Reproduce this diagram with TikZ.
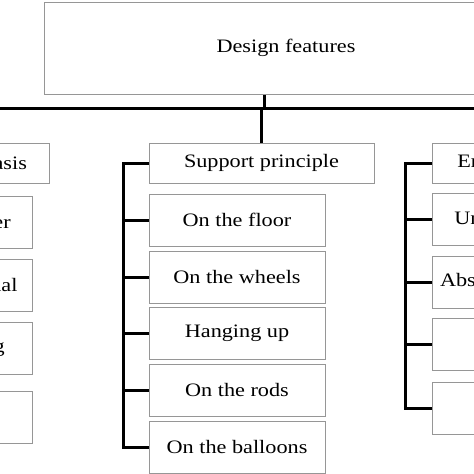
\documentclass[tikz,border=0pt]{standalone}
\usepackage{fontspec}
\setmainfont{Liberation Serif}[FakeStretch=1.17]
\definecolor{boxgray}{RGB}{150,150,150}
\begin{document}
\begin{tikzpicture}[x=1pt,y=-1pt,
  box/.style={draw=boxgray, line width=1pt, fill=white, minimum height=40pt,
    minimum width=225pt, inner sep=0pt, font=\fontsize{19}{22}\selectfont},
  kid/.style={box, minimum width=176pt, minimum height=52pt},
  link/.style={line width=3pt, black}]
\useasboundingbox (0,0) rectangle (474,474);
\clip (0,0) rectangle (474,474);
% top
\node[box, minimum width=484pt, minimum height=92pt] (top) at (286,48) {Design features};
% headers
\node[box] (lh) at (-63.5,163) {Constructional basis};
\node[box] (sp) at (261.5,163) {Support principle};
\node[box] (rh) at (544.5,163) {Ergonomic features};
% middle children
\node[kid] (m1) at (237,220) {On the floor};
\node[kid] (m2) at (237,277) {On the wheels};
\node[kid] (m3) at (237,333) {Hanging up};
\node[kid] (m4) at (237,390) {On the rods};
\node[kid] (m5) at (237,447) {On the balloons};
% left children
\node[kid] (l1) at (-56,222) {Multi-chamber};
\node[kid] (l2) at (-56,285) {Multi-functional};
\node[kid] (l3) at (-56,348) {Transforming};
\node[kid] (l4) at (-56,417) {Combined};
% right children
\node[kid] (r1) at (520,219.5) {Unified design};
\node[kid] (r2) at (520,282) {Absorbing impact};
\node[kid] (r3) at (520,344.5) {Folding};
\node[kid] (r4) at (520,408) {Two-level};
% bus
\coordinate (busL) at (-200,108);
\coordinate (busR) at (700,108);
\coordinate (stub) at (264,108);
\draw[link] (busL) -- (busR);
\draw[link] (stub) -- (stub |- top.south);
\draw[link] (sp.north) -- (sp.north |- busL);
\draw[link] (lh.north) -- (lh.north |- busL);
\draw[link] (rh.north) -- (rh.north |- busL);
% brackets
\coordinate (mb) at (123,163);
\draw[link] (sp.west) -- (mb) |- (m5.west);
\foreach \k in {m1,m2,m3,m4} \draw[link] (\k.west) -- (\k.west -| mb);
\coordinate (lb) at (-170,163);
\draw[link] (lh.west) -- (lb) |- (l4.west);
\foreach \k in {l1,l2,l3} \draw[link] (\k.west) -- (\k.west -| lb);
\coordinate (rb) at (405,163);
\draw[link] (rh.west) -- (rb) |- (r4.west);
\foreach \k in {r1,r2,r3} \draw[link] (\k.west) -- (\k.west -| rb);
\end{tikzpicture}
\end{document}
